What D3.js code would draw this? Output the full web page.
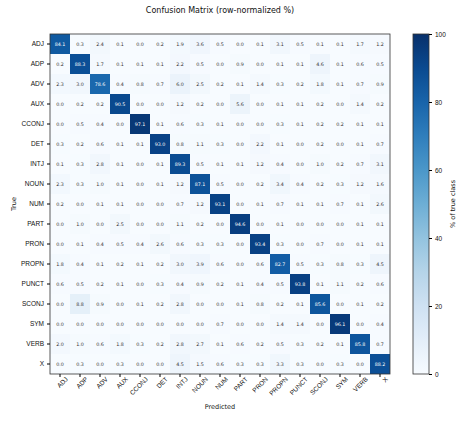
<!DOCTYPE html>
<html><head><meta charset="utf-8">
<script src="https://cdn.jsdelivr.net/npm/d3@7"></script>
<style>body{margin:0;background:#fff;font-family:"DejaVu Sans",sans-serif}</style>
</head><body><svg id="c" width="472" height="423"></svg>
<script>
var labels = ["ADJ","ADP","ADV","AUX","CCONJ","DET","INTJ","NOUN","NUM","PART","PRON","PROPN","PUNCT","SCONJ","SYM","VERB","X"];
var matrix = [
  [84.1,0.3,2.4,0.1,0.0,0.2,1.9,3.6,0.5,0.0,0.1,3.1,0.5,0.1,0.1,1.7,1.2],
  [0.2,88.3,1.7,0.1,0.1,0.1,2.2,0.5,0.0,0.9,0.0,0.1,0.1,4.6,0.1,0.6,0.5],
  [2.3,3.0,78.6,0.4,0.8,0.7,6.0,2.5,0.2,0.1,1.4,0.3,0.2,1.8,0.1,0.7,0.9],
  [0.0,0.2,0.2,90.5,0.0,0.0,1.2,0.2,0.0,5.6,0.0,0.1,0.1,0.2,0.0,1.4,0.2],
  [0.0,0.5,0.4,0.0,97.1,0.1,0.6,0.3,0.1,0.0,0.0,0.3,0.1,0.2,0.2,0.1,0.1],
  [0.3,0.2,0.6,0.1,0.1,93.0,0.8,1.1,0.3,0.0,2.2,0.1,0.0,0.2,0.0,0.1,0.7],
  [0.1,0.3,2.8,0.1,0.0,0.1,89.3,0.5,0.1,0.1,1.2,0.4,0.0,1.0,0.2,0.7,3.1],
  [2.3,0.3,1.0,0.1,0.0,0.1,1.2,87.1,0.5,0.0,0.2,3.4,0.4,0.2,0.3,1.2,1.6],
  [0.2,0.0,0.1,0.1,0.0,0.0,0.7,1.2,93.1,0.0,0.1,0.7,0.1,0.1,0.7,0.1,2.6],
  [0.0,1.0,0.0,2.5,0.0,0.0,1.1,0.2,0.0,94.6,0.0,0.1,0.0,0.0,0.0,0.1,0.1],
  [0.0,0.1,0.4,0.5,0.4,2.6,0.6,0.3,0.3,0.0,93.4,0.3,0.0,0.7,0.0,0.1,0.1],
  [1.8,0.4,0.1,0.2,0.1,0.2,3.0,3.9,0.6,0.0,0.6,82.7,0.5,0.3,0.8,0.3,4.5],
  [0.6,0.5,0.2,0.1,0.0,0.3,0.4,0.9,0.2,0.1,0.4,0.5,93.8,0.1,1.1,0.2,0.6],
  [0.0,8.8,0.9,0.0,0.1,0.2,2.8,0.0,0.0,0.1,0.8,0.2,0.1,85.6,0.0,0.1,0.2],
  [0.0,0.0,0.0,0.0,0.0,0.0,0.0,0.0,0.7,0.0,0.0,1.4,1.4,0.0,96.1,0.0,0.4],
  [2.0,1.0,0.6,1.8,0.3,0.2,2.8,2.7,0.1,0.6,0.2,0.5,0.3,0.2,0.1,85.8,0.7],
  [0.0,0.3,0.0,0.3,0.0,0.0,4.5,1.5,0.6,0.3,0.3,3.3,0.3,0.0,0.3,0.0,88.2]
];
var cbTicks = [0,20,40,60,80,100];

var svg = d3.select('#c');
var L = 50, T = 34, S = 340;
var x = d3.scaleBand().domain(labels).range([L, L + S]);
var y = d3.scaleBand().domain(labels).range([T, T + S]);
var color = d3.scaleSequential(d3.interpolateBlues).domain([0, 100]);

var cells = [];
matrix.forEach(function (row, i) {
    row.forEach(function (v, j) { cells.push({r: labels[i], c: labels[j], v: v}); });
});

svg.append('g').selectAll('rect').data(cells).join('rect')
    .attr('x', function (d) { return x(d.c); })
    .attr('y', function (d) { return y(d.r); })
    .attr('width', x.bandwidth()).attr('height', y.bandwidth())
    .attr('fill', function (d) { return color(d.v); });

svg.append('g').selectAll('text').data(cells).join('text')
    .attr('x', function (d) { return x(d.c) + x.bandwidth() / 2; })
    .attr('y', function (d) { return y(d.r) + y.bandwidth() / 2; })
    .attr('text-anchor', 'middle').attr('dominant-baseline', 'central')
    .attr('font-size', 4.8)
    .attr('fill', function (d) { return d.v > 50 ? '#fff' : '#333'; })
    .text(function (d) { return d.v.toFixed(1); });

svg.append('rect').attr('x', L).attr('y', T).attr('width', S).attr('height', S)
    .attr('fill', 'none').attr('stroke', '#333').attr('stroke-width', 0.8);

var xAxis = svg.append('g').attr('transform', 'translate(0,' + (T + S) + ')')
    .call(d3.axisBottom(x).tickSize(3).tickSizeOuter(0));
xAxis.selectAll('text').attr('font-size', 6.5).attr('fill', '#111')
    .attr('text-anchor', 'end').attr('dx', '0.3em').attr('dy', '0.6em')
    .attr('transform', 'rotate(-45)');
var yAxis = svg.append('g').attr('transform', 'translate(' + L + ',0)')
    .call(d3.axisLeft(y).tickSize(3).tickSizeOuter(0));
yAxis.selectAll('text').attr('font-size', 6.5).attr('fill', '#111');
svg.selectAll('.domain').remove();

svg.append('text').attr('x', L + S / 2).attr('y', 13).attr('text-anchor', 'middle')
    .attr('font-size', 8).attr('fill', '#111').text('Confusion Matrix (row-normalized %)');
svg.append('text').attr('x', L + S / 2).attr('y', 409).attr('text-anchor', 'middle')
    .attr('font-size', 6.5).attr('fill', '#111').text('Predicted');
svg.append('text').attr('transform', 'translate(16,' + (T + S / 2) + ') rotate(-90)')
    .attr('text-anchor', 'middle').attr('font-size', 6.5).attr('fill', '#111').text('True');

// colorbar
var cbX = 413, cbW = 16;
var cy = d3.scaleLinear().domain([0, 100]).range([T + S, T]);
var defs = svg.append('defs');
var grad = defs.append('linearGradient').attr('id', 'g').attr('x1', 0).attr('y1', 1).attr('x2', 0).attr('y2', 0);
d3.range(0, 1.01, 0.1).forEach(function (t) {
    grad.append('stop').attr('offset', t).attr('stop-color', color(t * 100));
});
svg.append('rect').attr('x', cbX).attr('y', T).attr('width', cbW).attr('height', S)
    .attr('fill', 'url(#g)').attr('stroke', '#333').attr('stroke-width', 0.8);
var cAxis = svg.append('g').attr('transform', 'translate(' + (cbX + cbW) + ',0)')
    .call(d3.axisRight(cy).tickValues(cbTicks).tickSize(3).tickSizeOuter(0));
cAxis.select('.domain').remove();
cAxis.selectAll('text').attr('font-size', 6.5).attr('fill', '#111');
svg.append('text').attr('transform', 'translate(455,' + (T + S / 2) + ') rotate(-90)')
    .attr('text-anchor', 'middle').attr('font-size', 6.5).attr('fill', '#111').text('% of true class');
</script></body></html>
